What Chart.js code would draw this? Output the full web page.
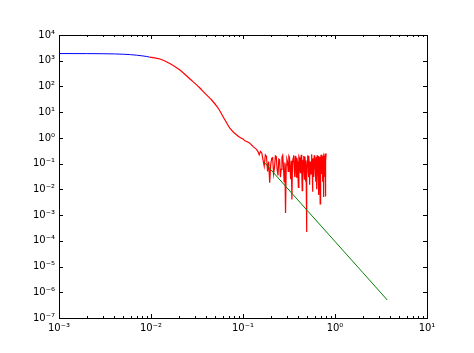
<!DOCTYPE html>
<html>
<head>
<meta charset="utf-8">
<script src="https://cdn.jsdelivr.net/npm/chart.js@4"></script>
<style>
  html, body { margin: 0; padding: 0; background: #fff; }
  #wrap { width: 474px; height: 353px; }
</style>
</head>
<body>
<div id="wrap"><canvas id="chart"></canvas></div>
<script>
/* ===============================
   data
================================ */
const freqBlue = [0.001, 0.002, 0.003, 0.004, 0.005, 0.006, 0.007, 0.008, 0.009, 0.0097];
const powBlue  = [1900, 1890, 1870, 1840, 1790, 1720, 1640, 1550, 1460, 1380];

// smooth part of the red curve
const freqRedSmooth = [
  0.0097, 0.0125, 0.016, 0.0206, 0.0265, 0.034, 0.0386, 0.0456, 0.0538, 0.0637,
  0.0722, 0.0889, 0.095, 0.1, 0.105, 0.11, 0.115, 0.12
];
const powRedSmooth = [
  1380, 1167, 780, 436, 195, 87, 54, 29.8, 14.2, 4.97,
  2.36, 1.15, 1.0, 0.9, 0.78, 0.72, 0.66, 0.6
];

// noisy part of the red curve
const freqRedNoise = [
  0.120, 0.125, 0.130, 0.135, 0.140, 0.145, 0.150, 0.155, 0.160, 0.165,
  0.170, 0.175, 0.180, 0.185, 0.190, 0.195, 0.200, 0.205, 0.210, 0.215,
  0.220, 0.225, 0.230, 0.235, 0.240, 0.245, 0.250, 0.255, 0.260, 0.265,
  0.270, 0.275, 0.280, 0.285, 0.290, 0.295, 0.300, 0.305, 0.310, 0.315,
  0.320, 0.325, 0.330, 0.335, 0.340, 0.345, 0.350, 0.355, 0.360, 0.365,
  0.370, 0.375, 0.380, 0.385, 0.390, 0.395, 0.400, 0.405, 0.410, 0.415,
  0.420, 0.425, 0.430, 0.435, 0.440, 0.445, 0.450, 0.455, 0.460, 0.465,
  0.470, 0.475, 0.480, 0.485, 0.490, 0.495, 0.500, 0.505, 0.510, 0.515,
  0.520, 0.525, 0.530, 0.535, 0.540, 0.545, 0.550, 0.555, 0.560, 0.565,
  0.570, 0.575, 0.580, 0.585, 0.590, 0.595, 0.600, 0.605, 0.610, 0.615,
  0.620, 0.625, 0.630, 0.635, 0.640, 0.645, 0.650, 0.655, 0.660, 0.665,
  0.670, 0.675, 0.680, 0.685, 0.690, 0.695, 0.700, 0.705, 0.710, 0.715,
  0.720, 0.725, 0.730, 0.735, 0.740, 0.745, 0.750, 0.755, 0.760, 0.765,
  0.770, 0.775, 0.780, 0.785, 0.790, 0.795, 0.800
];
const powRedNoise = [
  0.60, 0.52, 0.45, 0.40, 0.36, 0.30, 0.22, 0.30, 0.26, 0.14,
  0.08, 0.22, 0.19, 0.05, 0.12, 0.018, 0.09, 0.16, 0.17, 0.04,
  0.07, 0.20, 0.19, 0.06, 0.035, 0.15, 0.14, 0.03, 0.06, 0.18,
  0.21, 0.08, 0.02, 0.11, 0.0012, 0.09, 0.15, 0.12, 0.05, 0.20,
  0.18, 0.06, 0.025, 0.13, 0.004, 0.10, 0.16, 0.21, 0.07, 0.03,
  0.20, 0.11, 0.03, 0.17, 0.12, 0.04, 0.012, 0.19, 0.17, 0.06,
  0.045, 0.15, 0.22, 0.05, 0.009, 0.10, 0.14, 0.20, 0.06, 0.025,
  0.19, 0.13, 0.02, 0.08, 0.00022, 0.07, 0.13, 0.21, 0.05, 0.03,
  0.20, 0.10, 0.015, 0.12, 0.11, 0.04, 0.04, 0.17, 0.23, 0.07,
  0.008, 0.12, 0.16, 0.05, 0.03, 0.21, 0.19, 0.09, 0.06, 0.02,
  0.12, 0.18, 0.01, 0.07, 0.21, 0.15, 0.05, 0.03, 0.15, 0.20,
  0.006, 0.11, 0.18, 0.08, 0.0027, 0.16, 0.14, 0.22, 0.04, 0.09,
  0.22, 0.13, 0.02, 0.06, 0.17, 0.20, 0.005, 0.12, 0.20, 0.07,
  0.03, 0.16, 0.24, 0.10, 0.0053, 0.12, 0.25
];

const freqGreen = [0.17, 0.5, 1, 2, 3.7];
const powGreen  = [0.113, 1.5e-3, 9.4e-5, 5.9e-6, 5.0e-7];

const xTicks = [1e-3, 1e-2, 1e-1, 1, 10];
const xTickLabels = ['10⁻³', '10⁻²', '10⁻¹', '10⁰', '10¹'];
const yTicks = [1e-7, 1e-6, 1e-5, 1e-4, 1e-3, 1e-2, 1e-1, 1, 10, 100, 1000, 10000];
const yTickLabels = ['10⁻⁷', '10⁻⁶', '10⁻⁵', '10⁻⁴', '10⁻³', '10⁻²', '10⁻¹', '10⁰', '10¹', '10²', '10³', '10⁴'];

const toPoints = (xs, ys) => xs.map((x, i) => ({ x: x, y: ys[i] }));

/* ===============================
   frame + inward ticks (matplotlib style)
================================ */
const framePlugin = {
  id: 'frame',
  afterDatasetsDraw(chart) {
    const { ctx, chartArea: a, scales } = chart;
    const xs = scales.x, ys = scales.y;
    ctx.save();
    ctx.strokeStyle = '#000';
    ctx.lineWidth = 1;
    ctx.beginPath();
    xTicks.forEach(v => {
      const px = Math.round(xs.getPixelForValue(v)) + 0.5;
      ctx.moveTo(px, a.bottom); ctx.lineTo(px, a.bottom - 4);
      ctx.moveTo(px, a.top); ctx.lineTo(px, a.top + 4);
    });
    for (let d = 0; d < xTicks.length - 1; d++) {
      for (let k = 2; k <= 9; k++) {
        const px = Math.round(xs.getPixelForValue(xTicks[d] * k)) + 0.5;
        ctx.moveTo(px, a.bottom); ctx.lineTo(px, a.bottom - 2);
        ctx.moveTo(px, a.top); ctx.lineTo(px, a.top + 2);
      }
    }
    yTicks.forEach(v => {
      const py = Math.round(ys.getPixelForValue(v)) + 0.5;
      ctx.moveTo(a.left, py); ctx.lineTo(a.left + 4, py);
      ctx.moveTo(a.right, py); ctx.lineTo(a.right - 4, py);
    });
    ctx.stroke();
    ctx.strokeRect(Math.round(a.left) + 0.5, Math.round(a.top) + 0.5,
      Math.round(a.right - a.left), Math.round(a.bottom - a.top));
    ctx.restore();
  }
};

const ctx = document.getElementById('chart').getContext('2d');

const chart = new Chart(ctx, {
  type: 'line',
  data: {
    datasets: [
      {
        data: toPoints(freqGreen, powGreen),
        borderColor: '#008000',
        borderWidth: 1,
        pointRadius: 0,
        order: 0
      },
      {
        data: toPoints(freqRedNoise, powRedNoise),
        borderColor: '#ff0000',
        borderWidth: 1.2,
        pointRadius: 0,
        order: 1
      },
      {
        data: toPoints(freqRedSmooth, powRedSmooth),
        borderColor: '#ff0000',
        borderWidth: 1.2,
        pointRadius: 0,
        cubicInterpolationMode: 'monotone',
        order: 1
      },
      {
        data: toPoints(freqBlue, powBlue),
        borderColor: '#0000ff',
        borderWidth: 1,
        pointRadius: 0,
        cubicInterpolationMode: 'monotone',
        order: 2
      }
    ]
  },
  options: {
    responsive: true,
    maintainAspectRatio: false,
    animation: false,
    layout: { padding: { top: 35, right: 47, left: 0, bottom: 0 } },
    plugins: {
      legend: { display: false },
      tooltip: { enabled: false }
    },
    scales: {
      x: {
        type: 'logarithmic',
        min: 1e-3,
        max: 10,
        afterBuildTicks: s => { s.ticks = xTicks.map(v => ({ value: v })); },
        afterFit: s => { s.height = 35; },
        grid: { display: false, drawTicks: false },
        border: { display: false },
        ticks: {
          autoSkip: false,
          maxRotation: 0,
          padding: 4,
          color: '#000',
          font: { family: 'DejaVu Sans', size: 10 },
          callback: v => xTickLabels[xTicks.indexOf(v)]
        }
      },
      y: {
        type: 'logarithmic',
        min: 1e-7,
        max: 1e4,
        afterBuildTicks: s => { s.ticks = yTicks.map(v => ({ value: v })); },
        afterFit: s => { s.width = 59; },
        grid: { display: false, drawTicks: false },
        border: { display: false },
        ticks: {
          autoSkip: false,
          padding: 4,
          color: '#000',
          font: { family: 'DejaVu Sans', size: 10 },
          callback: v => yTickLabels[yTicks.indexOf(v)]
        }
      }
    }
  },
  plugins: [framePlugin]
});
</script>
</body>
</html>
